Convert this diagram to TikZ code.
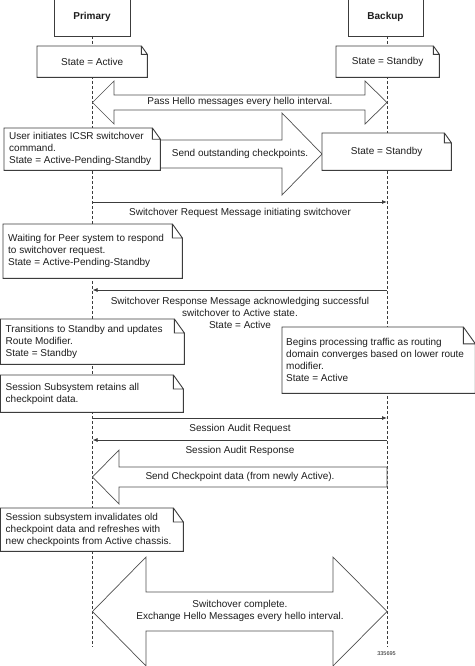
\documentclass[tikz,border=0pt]{standalone}
\usepackage{fontspec}
\setmainfont{Liberation Sans}
\usetikzlibrary{arrows.meta}
\definecolor{ln}{HTML}{3C3C3C}
\definecolor{al}{HTML}{505050}
\definecolor{tx}{HTML}{1E1E1E}
\newcommand{\notefold}[2]{%
  \draw[noteline] (#1.north west) -- ([xshift=-#2pt]#1.north east) -- ([yshift=-1.4*#2pt]#1.north east) -- (#1.south east) -- (#1.south west) -- cycle
    ([xshift=-#2pt]#1.north east) -- ([xshift=-#2pt,yshift=-1.4*#2pt]#1.north east) -- ([yshift=-1.4*#2pt]#1.north east);}
\tikzset{
  every node/.style={font=\fontsize{10}{12}\selectfont, text=tx},
  hdr/.style={draw=ln, line width=0.9pt, fill=white, anchor=north west, inner sep=0,
              font=\fontsize{10}{12}\selectfont\bfseries},
  lifeline/.style={draw=ln, line width=0.9pt, dash pattern=on 3pt off 2pt},
  notebg/.style={fill=white, inner sep=0, anchor=north west},
  noteline/.style={draw=ln, line width=0.9pt, line join=miter},
  notetxt/.style={inner sep=0, align=left, anchor=west},
  notectr/.style={inner sep=0, align=center},
  blockarrow/.style={draw=al, line width=0.7pt, fill=white, line join=miter},
  msg/.style={draw=ln, line width=0.8pt, -{Latex[length=5pt,width=4pt]}},
  lbl/.style={inner sep=0, align=center},
}
\begin{document}
\begin{tikzpicture}[x=1pt,y=-1pt]
\useasboundingbox (0,0) rectangle (474,666);

% headers
\node[hdr, minimum width=76, minimum height=41] (P) at (54,-5) {};
\node at (92,17) (Pt) {\bfseries Primary};
\node[hdr, minimum width=75, minimum height=41] (B) at (348,-5) {};
\node at (385.5,17) (Bt) {\bfseries Backup};

% lifelines
\coordinate (pl) at (92.5,36);
\coordinate (bl) at (387,36);
\coordinate (pe) at (92.5,647);
\coordinate (be) at (387,647);
\draw[lifeline] (pl) -- (pe);
\draw[lifeline] (bl) -- (be);

% block arrows
\draw[blockarrow] (92.5,102.5) -- (114,81) -- (114,95) -- (365,95) -- (365,81) -- (387,102.5)
  -- (365,124) -- (365,110) -- (114,110) -- (114,124) -- cycle;
\node[lbl] (hello) at (240,101.5) {Pass Hello messages every hello interval.};

\draw[blockarrow] (92.5,140) -- (282,140) -- (282,113) -- (322,154) -- (282,195) -- (282,168) -- (92.5,168) -- cycle;
\node[lbl] (sendout) at (240,154) {Send outstanding checkpoints.};

\draw[blockarrow] (387,467) -- (119,467) -- (119,450) -- (92.5,477) -- (119,504) -- (119,487) -- (387,487) -- cycle;
\node[lbl] (sendcp) at (240,477) {Send Checkpoint data (from newly Active).};

\draw[blockarrow] (92.5,611.5) -- (146,557) -- (146,592) -- (333,592) -- (333,557) -- (387,611.5)
  -- (333,666) -- (333,631) -- (146,631) -- (146,666) -- cycle;
\node[lbl] (done) at (240,611) {Switchover complete.\\Exchange Hello Messages every hello interval.};

% notes
\node[notebg, minimum width=110, minimum height=31] (sa) at (37,46) {};
\notefold{sa}{6}
\node[notectr] (sat) at (sa.center) {State = Active};

\node[notebg, minimum width=103, minimum height=31] (ss) at (336,46) {};
\notefold{ss}{6}
\node[notectr] (sst) at (ss.center) {State = Standby};

\node[notebg, minimum width=156, minimum height=42] (user) at (4,128) {};
\notefold{user}{8}
\node[notetxt] (usert) at ([xshift=5pt]user.west) {User initiates ICSR switchover\\command.\\State = Active-Pending-Standby};

\node[notebg, minimum width=129, minimum height=37] (ss2) at (322,133) {};
\notefold{ss2}{7}
\node[notectr] (ss2t) at (ss2.center) {State = Standby};

\node[notebg, minimum width=179, minimum height=54] (wait) at (3,224) {};
\notefold{wait}{10}
\node[notetxt] (waitt) at ([xshift=5pt]wait.west) {Waiting for Peer system to respond\\to switchover request.\\State = Active-Pending-Standby};

\node[notebg, minimum width=183.5, minimum height=45] (trans) at (0.5,319) {};
\notefold{trans}{10}
\node[notetxt] (transt) at ([xshift=5pt]trans.west) {Transitions to Standby and updates\\Route Modifier.\\State = Standby};

\node[notebg, minimum width=182.5, minimum height=37] (sess) at (0.5,375) {};
\notefold{sess}{10}
\node[notetxt] (sesst) at ([xshift=5pt]sess.west) {Session Subsystem retains all\\checkpoint data.};

\node[notebg, minimum width=193, minimum height=66] (beg) at (282,327) {};
\notefold{beg}{12}
\node[notetxt] (begt) at ([xshift=4pt]beg.west) {Begins processing traffic as routing\\domain converges based on lower route\\modifier.\\State = Active};

\node[notebg, minimum width=182.5, minimum height=43] (inv) at (0.5,508) {};
\notefold{inv}{10}
\node[notetxt] (invt) at ([xshift=5pt]inv.west) {Session subsystem invalidates old\\checkpoint data and refreshes with\\new checkpoints from Active chassis.};

% messages
\draw[msg] (pl |- 0,202) -- (bl |- 0,202);
\node[lbl] (reql) at (240,213) {Switchover Request Message initiating switchover};

\draw[msg] (bl |- 0,290) -- (pl |- 0,290);
\node[lbl] (respl) at (240,312.5) {Switchover Response Message acknowledging successful\\switchover to Active state.\\State = Active};

\draw[msg] (pl |- 0,418) -- (bl |- 0,418);
\node[lbl] (aureq) at (240,428.5) {Session Audit Request};

\draw[msg] (bl |- 0,440) -- (pl |- 0,440);
\node[lbl] (aures) at (240,451) {Session Audit Response};

\node[lbl, font=\fontsize{5.5}{6}\selectfont] (fig) at (386.5,654) {335695};
\end{tikzpicture}
\end{document}
